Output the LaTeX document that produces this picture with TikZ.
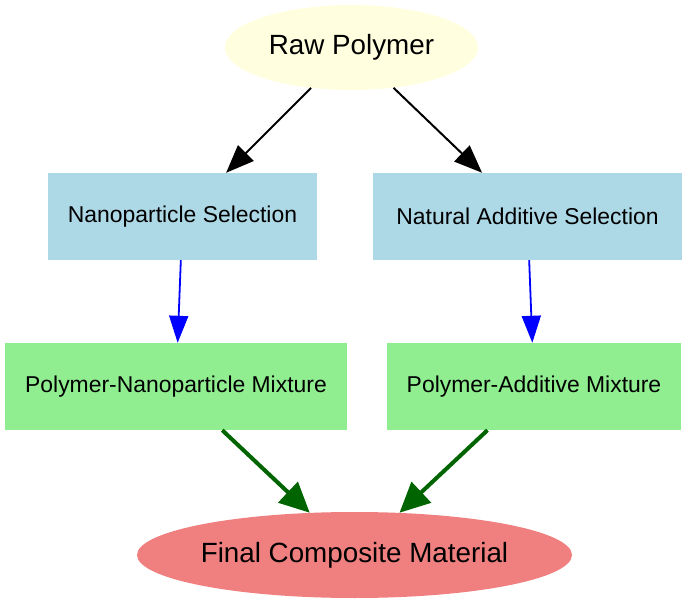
\documentclass[tikz,border=0pt]{standalone}
\usepackage{fontspec}
\setmainfont{Liberation Sans}
\usetikzlibrary{shapes.geometric,arrows.meta}
\definecolor{lyellow}{HTML}{FFFFE0}
\definecolor{lblue}{HTML}{ADD8E6}
\definecolor{lgreen}{HTML}{90EE90}
\definecolor{lcoral}{HTML}{F08080}
\definecolor{dgreen}{HTML}{006400}
\tikzset{
  oval/.style={ellipse, draw=none, inner sep=0pt, font=\fontsize{27.8}{32}\selectfont},
  procbox/.style={rectangle, draw=none, inner sep=0pt, minimum height=87pt, font=\fontsize{22.9}{26}\selectfont},
  blackarrow/.style={draw=black, line width=2pt, -{Triangle[length=28pt,width=22pt]}},
  bluearrow/.style={draw=blue, line width=1.8pt, -{Triangle[length=27pt,width=19pt]}},
  greenarrow/.style={draw=dgreen, line width=4pt, -{Triangle[length=30pt,width=28pt]}}
}
\begin{document}
\begin{tikzpicture}[x=1pt,y=1pt]
\useasboundingbox (0,0) rectangle (685,603);
\node[oval, fill=lyellow, minimum width=253pt, minimum height=85pt] (raw) at (351.5,555.5) {Raw Polymer};
\node[procbox, fill=lblue, minimum width=269pt] (nano) at (182.5,386.5) {Nanoparticle Selection};
\node[procbox, fill=lblue, minimum width=309pt] (nat) at (527.5,386.5) {Natural Additive Selection};
\node[procbox, fill=lgreen, minimum width=342pt] (pnm) at (176,216.5) {Polymer-Nanoparticle Mixture};
\node[procbox, fill=lgreen, minimum width=294pt] (pam) at (534,216.5) {Polymer-Additive Mixture};
\node[oval, fill=lcoral, minimum width=435pt, minimum height=86pt] (final) at (354.5,48) {Final Composite Material};
\draw[blackarrow] (raw) -- (nano);
\draw[blackarrow] (raw) -- (nat);
\draw[bluearrow] (nano) -- (pnm);
\draw[bluearrow] (nat) -- (pam);
\draw[greenarrow] (pnm) -- (final);
\draw[greenarrow] (pam) -- (final);
\end{tikzpicture}
\end{document}
